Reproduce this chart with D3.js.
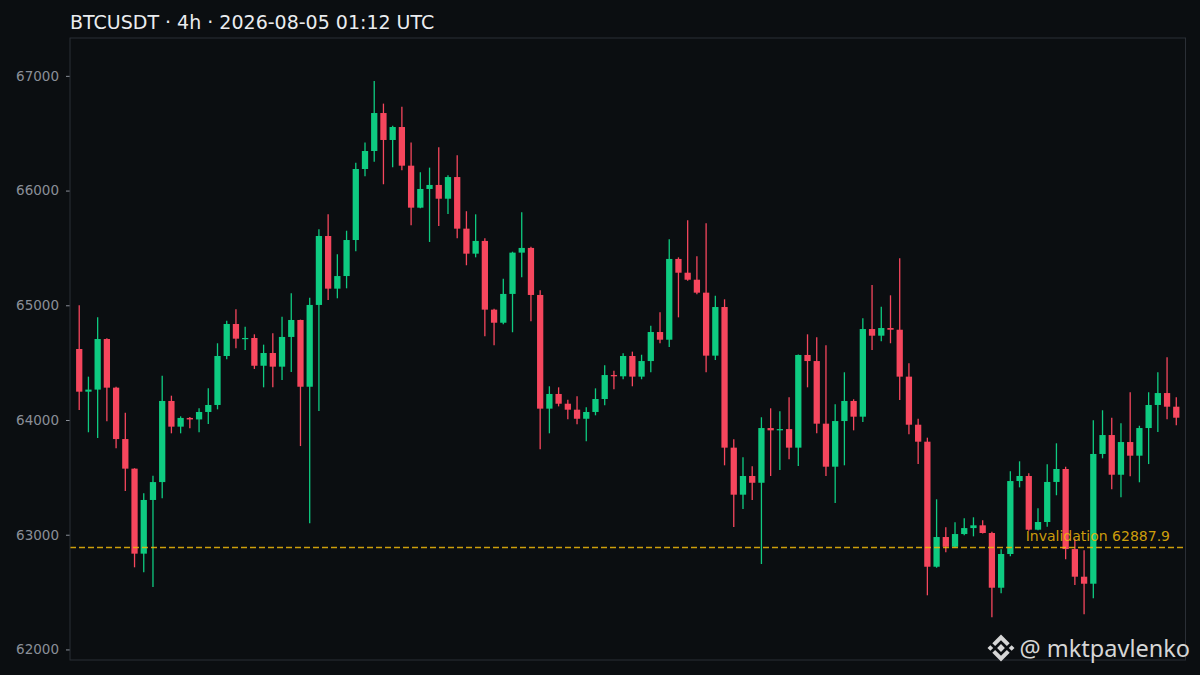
<!DOCTYPE html>
<html>
<head>
<meta charset="utf-8">
<script src="https://cdn.jsdelivr.net/npm/d3@7"></script>
<style>
  html, body { margin: 0; padding: 0; background: #0b0e11; }
  svg { display: block; }
</style>
</head>
<body>
<svg id="chart" width="1200" height="675"></svg>
<script>
// 4h candles (oldest first)
var opens = [
  64619, 64247, 64265, 64706, 64282, 63834, 63576, 62835, 63303, 63459,
  64166, 63942, 64018, 64005, 64070, 64131, 64558, 64837, 64709, 64715,
  64473, 64584, 64465, 64724, 64872, 64290, 65003, 65604, 65145, 65255,
  65569, 66188, 66345, 66676, 66441, 66554, 66217, 65851, 66014, 66049,
  65929, 66118, 65668, 65450, 65561, 64962, 64848, 65099, 65459, 65500,
  65090, 64099, 64227, 64142, 64090, 64011, 64070, 64183, 64392, 64381,
  64558, 64378, 64514, 64767, 64700, 65404, 65284, 65223, 65110, 64561,
  64985, 63759, 63349, 63512, 63453, 63930, 63910, 63921, 63759, 64567,
  64514, 63968, 63593, 63991, 64166, 64029, 64793, 64735, 64802, 64787,
  64378, 63959, 63811, 62721, 62980, 62895, 63006, 63058, 63082, 63015,
  62538, 62832, 63468, 63512, 63044, 63111, 63460, 63573, 62875, 62634,
  62573, 63704, 63869, 63523, 63808, 63689, 63930, 64131, 64235, 64116
];
var highs = [
  65000, 64378, 64895, 64712, 64290, 64064, 63580, 63361, 63514, 64386,
  64212, 64032, 64027, 64102, 64276, 64669, 64866, 64965, 64813, 64747,
  64657, 64756, 64901, 65105, 64875, 65066, 65663, 65793, 65445, 65650,
  66243, 66418, 66955, 66758, 66566, 66731, 66418, 66159, 66200, 66377,
  66133, 66308, 65820, 65793, 65584, 64970, 65232, 65467, 65811, 65510,
  65131, 64294, 64285, 64177, 64207, 64111, 64276, 64477, 64430, 64582,
  64596, 64569, 64822, 64939, 65575, 65418, 65741, 65427, 65715, 65084,
  65052, 63832, 63675, 63596, 64024, 64102, 64076, 64198, 64570, 64747,
  64721, 64651, 64137, 64416, 64181, 64887, 65177, 64988, 65087, 65410,
  64494, 64011, 63846, 63309, 63065, 63108, 63143, 63152, 63126, 63026,
  62873, 63553, 63640, 63535, 63230, 63614, 63797, 63593, 62966, 62864,
  63997, 64085, 64020, 63971, 64242, 63950, 64242, 64416, 64547, 64198
];
var lows = [
  64087, 63893, 63843, 63989, 63753, 63381, 62716, 62672, 62544, 63317,
  63884, 63884, 63928, 63893, 63965, 64093, 64529, 64625, 64610, 64445,
  64285, 64285, 64349, 64419, 63773, 63099, 64079, 65046, 65061, 65148,
  65471, 66125, 66252, 66055, 66203, 66177, 65697, 65846, 65552, 65691,
  65796, 65584, 65349, 65418, 64730, 64651, 64834, 64765, 65244, 64861,
  63745, 63884, 64119, 64006, 63963, 63814, 64041, 64128, 64268, 64355,
  64294, 64355, 64416, 64669, 64636, 64895, 65214, 65096, 64416, 64523,
  63605, 63067, 63224, 63303, 62745, 63512, 63564, 63657, 63599, 64285,
  63884, 63512, 63276, 63605, 63910, 63983, 64610, 64686, 64669, 64174,
  63875, 63616, 62472, 62712, 62847, 62890, 62995, 62986, 63010, 62280,
  62489, 62812, 63413, 63035, 63040, 63070, 63344, 62786, 62562, 62306,
  62446, 63666, 63396, 63326, 63509, 63457, 63616, 63895, 64006, 63954
];
var closes = [
  64247, 64265, 64706, 64282, 63834, 63576, 62835, 63303, 63459, 64166,
  63942, 64018, 64005, 64070, 64131, 64558, 64837, 64709, 64715, 64473,
  64584, 64465, 64724, 64872, 64290, 65003, 65604, 65145, 65255, 65569,
  66188, 66345, 66676, 66441, 66554, 66217, 65851, 66014, 66049, 65929,
  66118, 65668, 65450, 65561, 64962, 64848, 65099, 65459, 65500, 65090,
  64099, 64227, 64142, 64090, 64011, 64070, 64183, 64392, 64381, 64558,
  64378, 64514, 64767, 64700, 65404, 65284, 65223, 65110, 64561, 64985,
  63759, 63349, 63512, 63453, 63930, 63910, 63921, 63759, 64567, 64514,
  63968, 63593, 63991, 64166, 64029, 64793, 64735, 64802, 64787, 64378,
  63959, 63811, 62721, 62980, 62895, 63006, 63058, 63082, 63015, 62538,
  62832, 63468, 63512, 63044, 63111, 63460, 63573, 62875, 62634, 62573,
  63704, 63869, 63523, 63808, 63689, 63930, 64131, 64235, 64116, 64020
];
var yTicks = [62000, 63000, 64000, 65000, 66000, 67000];
var invalidation = 62887.9;
var titleText = 'BTCUSDT · 4h · 2026-08-05 01:12 UTC';
var handle = '@ mktpavlenko';

var UP = '#0ecb81', DOWN = '#f6465d', GOLD = '#f0b90b';

var svg = d3.select('#chart');
// plot box (note: "top" is taken by window.top, so use other names)
var plotL = 70, plotR = 1185.5, plotT = 38, plotB = 660;

var x = d3.scaleLinear().domain([-1, opens.length]).range([plotL, plotR]);
var y = d3.scaleLinear().domain([61908, 67330]).range([plotB, plotT]);
var bodyW = (x(1) - x(0)) * 0.68;

// title
svg.append('text')
  .attr('x', plotL).attr('y', 29)
  .attr('fill', '#eaecef')
  .style('font', '19px "DejaVu Sans"')
  .text(titleText);

// y axis
var yAxis = d3.axisLeft(y).tickValues(yTicks).tickSize(4).tickPadding(7)
  .tickFormat(d3.format('d'));
var ga = svg.append('g').attr('transform', 'translate(' + plotL + ',0)').call(yAxis);
ga.select('.domain').remove();
ga.selectAll('line').attr('stroke', '#8a8f98');
ga.selectAll('text')
  .attr('fill', '#8a8f98')
  .style('font', '13.5px "DejaVu Sans"');

// candles
var candles = svg.append('g');
opens.forEach(function(o, i) {
  var c = closes[i];
  var col = c >= o ? UP : DOWN;
  candles.append('line')
    .attr('x1', x(i)).attr('x2', x(i))
    .attr('y1', y(highs[i])).attr('y2', y(lows[i]))
    .attr('stroke', col).attr('stroke-width', 1.3);
  var yt = y(Math.max(o, c)), yb = y(Math.min(o, c));
  candles.append('rect')
    .attr('x', x(i) - bodyW / 2)
    .attr('y', yt)
    .attr('width', bodyW)
    .attr('height', Math.max(yb - yt, 1.2))
    .attr('fill', col);
});

// invalidation level
svg.append('line')
  .attr('x1', plotL).attr('x2', plotR)
  .attr('y1', y(invalidation)).attr('y2', y(invalidation))
  .attr('stroke', GOLD).attr('stroke-opacity', 0.85)
  .attr('stroke-width', 1.5).attr('stroke-dasharray', '6,3');
svg.append('text')
  .attr('x', 1170).attr('y', y(invalidation) - 7)
  .attr('text-anchor', 'end')
  .attr('fill', GOLD).attr('fill-opacity', 0.85)
  .style('font', '14px "DejaVu Sans"')
  .text('Invalidation ' + invalidation.toFixed(1));

// frame
svg.append('rect')
  .attr('x', plotL).attr('y', plotT)
  .attr('width', plotR - plotL).attr('height', plotB - plotT)
  .attr('fill', 'none').attr('stroke', '#2b2f36').attr('stroke-width', 1);

// watermark
var logo = svg.append('g')
  .attr('transform', 'translate(1001,648) scale(1.5) translate(-12,-12)')
  .attr('fill', '#d6d6d6');
logo.append('path').attr('d',
  'M12 9.4L14.6 12L12 14.6L9.4 12Z' +
  'M12 3L17.8 8.8L15.9 10.7L12 6.8L8.1 10.7L6.2 8.8Z' +
  'M12 21L17.8 15.2L15.9 13.3L12 17.2L8.1 13.3L6.2 15.2Z' +
  'M3 12L4.9 10.1L6.8 12L4.9 13.9Z' +
  'M21 12L19.1 10.1L17.2 12L19.1 13.9Z');
svg.append('text')
  .attr('x', 1190).attr('y', 657)
  .attr('text-anchor', 'end')
  .attr('fill', '#d6d6d6')
  .style('font', '23.5px "Noto Sans"')
  .text(handle);
</script>
</body>
</html>
